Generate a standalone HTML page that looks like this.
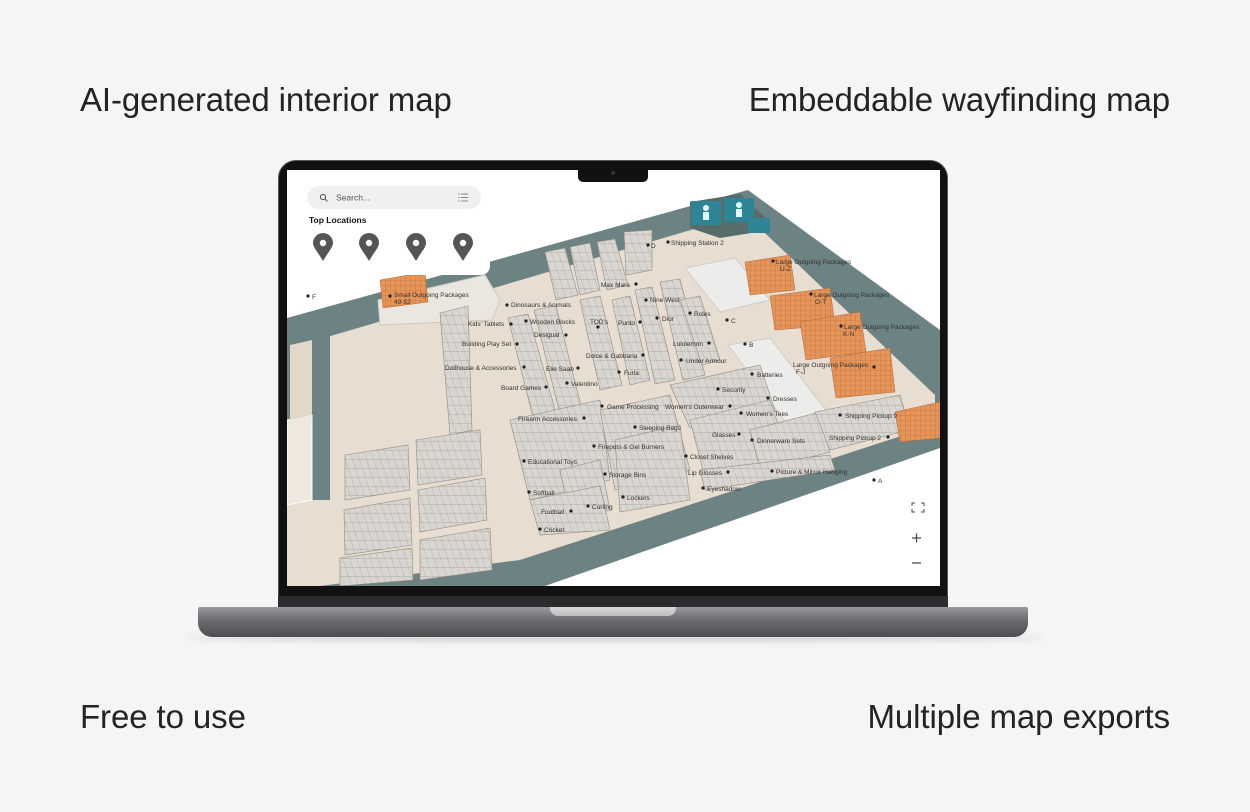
<!DOCTYPE html>
<html><head><meta charset="utf-8"><style>
body{margin:0;width:1250px;height:812px;background:#f4f5f4;font-family:"Liberation Sans",sans-serif;position:relative;overflow:hidden}
.t{position:absolute;font-size:33px;color:#232323;letter-spacing:-0.1px;white-space:nowrap}
</style></head><body>
<div class="t" style="left:80px;top:81px">AI-generated interior map</div>
<div class="t" style="right:80px;top:81px">Embeddable wayfinding map</div>
<div class="t" style="left:80px;top:698px">Free to use</div>
<div class="t" style="right:80px;top:698px">Multiple map exports</div>

<div style="position:absolute;left:185px;top:634px;width:860px;height:8px;border-radius:50%;background:rgba(0,0,0,0.12);filter:blur(3px)"></div>
<div style="position:absolute;left:278px;top:160px;width:670px;height:448px;background:#111;border-radius:18px 18px 0 0;border:1px solid #555;box-sizing:border-box"></div>
<div style="position:absolute;left:278px;top:596px;width:670px;height:12px;background:#2c2c2e"></div>
<div style="position:absolute;left:198px;top:607px;width:830px;height:30px;background:linear-gradient(#9a9a9e,#6e6e72 40%,#4e4e52);border-radius:2px 2px 14px 14px"></div>
<div style="position:absolute;left:550px;top:607px;width:126px;height:9px;background:linear-gradient(#d8d8da,#bdbdc0);border-radius:0 0 8px 8px"></div>

<svg style="position:absolute;left:287px;top:170px" width="653" height="416" viewBox="287 170 653 416" font-family="Liberation Sans, sans-serif">
<defs>
<pattern id="sh" width="7" height="9" patternUnits="userSpaceOnUse" patternTransform="skewX(18)">
<rect width="7" height="9" fill="#d9d5d0"/><path d="M0 0H7M0 0V9" stroke="#a09b95" stroke-width="0.6"/></pattern>
<pattern id="or" width="5" height="5" patternUnits="userSpaceOnUse">
<rect width="5" height="5" fill="#e6955a"/><path d="M0 0H5M0 0V5" stroke="#b86a35" stroke-width="0.6"/></pattern>
</defs>
<rect x="287" y="170" width="653" height="416" fill="#fff"/>
<polygon points="287,318 748,190 940,330 940,448 545,586 287,586" fill="#6d8282"/>
<polygon points="300,345 745,214 935,395 935,425 520,560 320,586 300,586" fill="#e7ddd0"/>
<polygon points="287,340 330,330 330,500 287,500" fill="#6d8282"/>
<polygon points="287,505 318,500 318,586 287,586" fill="#e7ddd0"/>
<polygon points="287,420 312,415 312,500 287,505" fill="#eee8de" stroke="#fff" stroke-width="1"/>
<polygon points="290,345 312,340 312,415 290,420" fill="#e2d8ca"/>
<polygon points="685,268 735,258 770,300 720,312" fill="#ececea" stroke="#ccc"/>
<polygon points="728,345 770,338 832,418 790,428" fill="#ececea" stroke="#ccc"/>
<polygon points="378,300 485,275 500,300 492,320 380,325" fill="#ebe7e0" stroke="#cfc9c0"/>
<polygon points="690,202 740,194 770,222 770,230 720,238 690,228" fill="#586c6c"/>
<rect x="691" y="201" width="30" height="24" fill="#2f8596"/>
<rect x="724" y="198" width="30" height="24" fill="#2f8596"/>
<rect x="748" y="218" width="22" height="15" fill="#2f8596"/>
<circle cx="706" cy="208" r="3" fill="#dff"/><rect x="703" y="212" width="6" height="8" fill="#dff"/>
<circle cx="739" cy="205" r="3" fill="#dff"/><rect x="736" y="209" width="6" height="8" fill="#dff"/>
<g fill="url(#sh)" stroke="#8f8a84" stroke-width="0.6">
<polygon points="624,232 652,230 652,270 626,275"/>
<polygon points="545,252 565,248 578,295 556,300"/>
<polygon points="570,247 590,243 600,290 580,295"/>
<polygon points="597,242 615,239 628,285 607,290"/>
<polygon points="508,318 528,314 558,420 535,425"/>
<polygon points="534,310 556,306 582,410 560,414"/>
<polygon points="580,300 600,296 622,385 600,390"/>
<polygon points="612,300 630,296 650,380 630,385"/>
<polygon points="635,290 652,287 675,380 655,384"/>
<polygon points="660,282 680,279 705,375 683,380"/>
<polygon points="680,300 700,296 720,360 702,365"/>
<polygon points="440,313 468,306 472,430 450,435"/>
<polygon points="510,420 600,400 610,480 530,500"/>
<polygon points="560,470 600,460 610,510 570,520"/>
<polygon points="600,410 670,395 690,470 615,490"/>
<polygon points="615,440 680,425 690,500 620,512"/>
<polygon points="670,385 760,365 775,410 690,428"/>
<polygon points="690,420 770,400 790,460 705,478"/>
<polygon points="750,430 820,412 830,452 760,470"/>
<polygon points="700,470 830,455 835,470 705,490"/>
<polygon points="815,412 900,395 910,430 830,450"/>
<polygon points="530,500 600,486 610,530 540,535"/>
<polygon points="345,455 408,445 410,490 345,500"/>
<polygon points="416,440 480,430 482,475 418,485"/>
<polygon points="344,510 410,498 412,545 345,555"/>
<polygon points="418,490 485,478 487,520 420,532"/>
<polygon points="340,558 412,548 413,580 340,586"/>
<polygon points="420,540 490,528 492,570 420,580"/>
</g>
<g fill="url(#or)" stroke="#b06a38" stroke-width="0.5">
<polygon points="745,262 790,255 795,290 750,295"/>
<polygon points="770,296 830,288 835,325 775,330"/>
<polygon points="800,322 860,312 866,352 806,360"/>
<polygon points="830,358 890,348 895,392 836,398"/>
<polygon points="895,412 940,402 940,438 900,442"/>
<polygon points="380,280 425,272 428,302 383,308"/>
</g>
<g font-size="6.5" fill="#333">
<g fill="#222">
<circle cx="648" cy="245" r="1.6"/><circle cx="668" cy="242" r="1.6"/><circle cx="773" cy="261" r="1.6"/><circle cx="811" cy="294" r="1.6"/><circle cx="841" cy="326" r="1.6"/><circle cx="874" cy="367" r="1.6"/><circle cx="636" cy="284" r="1.6"/><circle cx="646" cy="300" r="1.6"/><circle cx="690" cy="313" r="1.6"/><circle cx="727" cy="320" r="1.6"/><circle cx="657" cy="318" r="1.6"/><circle cx="640" cy="322" r="1.6"/><circle cx="598" cy="327" r="1.6"/><circle cx="526" cy="321" r="1.6"/><circle cx="511" cy="324" r="1.6"/><circle cx="507" cy="305" r="1.6"/><circle cx="390" cy="296" r="1.6"/><circle cx="566" cy="335" r="1.6"/><circle cx="709" cy="343" r="1.6"/><circle cx="745" cy="344" r="1.6"/><circle cx="517" cy="344" r="1.6"/><circle cx="643" cy="355" r="1.6"/><circle cx="681" cy="360" r="1.6"/><circle cx="524" cy="367" r="1.6"/><circle cx="578" cy="368" r="1.6"/><circle cx="619" cy="372" r="1.6"/><circle cx="752" cy="374" r="1.6"/><circle cx="567" cy="383" r="1.6"/><circle cx="546" cy="387" r="1.6"/><circle cx="718" cy="389" r="1.6"/><circle cx="768" cy="398" r="1.6"/><circle cx="602" cy="406" r="1.6"/><circle cx="730" cy="406" r="1.6"/><circle cx="741" cy="413" r="1.6"/><circle cx="840" cy="415" r="1.6"/><circle cx="584" cy="418" r="1.6"/><circle cx="635" cy="427" r="1.6"/><circle cx="739" cy="434" r="1.6"/><circle cx="752" cy="440" r="1.6"/><circle cx="888" cy="437" r="1.6"/><circle cx="594" cy="446" r="1.6"/><circle cx="686" cy="456" r="1.6"/><circle cx="524" cy="461" r="1.6"/><circle cx="605" cy="474" r="1.6"/><circle cx="728" cy="472" r="1.6"/><circle cx="772" cy="471" r="1.6"/><circle cx="874" cy="480" r="1.6"/><circle cx="529" cy="492" r="1.6"/><circle cx="703" cy="488" r="1.6"/><circle cx="623" cy="497" r="1.6"/><circle cx="588" cy="506" r="1.6"/><circle cx="571" cy="511" r="1.6"/><circle cx="540" cy="529" r="1.6"/><circle cx="308" cy="296" r="1.6"/>
</g>
<text x="651" y="248">D</text><text x="671" y="245">Shipping Station 2</text>
<text x="776" y="264">Large Outgoing Packages</text><text x="780" y="271">U-Z</text>
<text x="814" y="297">Large Outgoing Packages</text><text x="815" y="304">O-T</text>
<text x="844" y="329">Large Outgoing Packages</text><text x="843" y="336">K-N</text>
<text x="793" y="367">Large Outgoing Packages</text><text x="796" y="374">F-J</text>
<text x="601" y="287">Max Mara</text><text x="650" y="302">Nine West</text>
<text x="694" y="316">Roles</text><text x="731" y="323">C</text><text x="662" y="321">Dior</text>
<text x="618" y="325">Punto</text><text x="590" y="324">TOD's</text><text x="530" y="324">Wooden Blocks</text>
<text x="468" y="326">Kids' Tablets</text><text x="511" y="307">Dinosaurs &amp; Animals</text>
<text x="394" y="297">Small Outgoing Packages</text><text x="394" y="304">49-52</text>
<text x="534" y="337">Desigual</text><text x="673" y="346">Lululemon</text><text x="749" y="347">B</text>
<text x="462" y="346">Building Play Set</text><text x="586" y="358">Dolce &amp; Gabbana</text>
<text x="686" y="363">Under Armour</text><text x="445" y="370">Dollhouse &amp; Accessories</text>
<text x="546" y="371">Elie Saab</text><text x="624" y="375">Furla</text><text x="757" y="377">Batteries</text>
<text x="571" y="386">Valentino</text><text x="501" y="390">Board Games</text><text x="722" y="392">Security</text>
<text x="773" y="401">Dresses</text><text x="607" y="409">Game Processing</text><text x="665" y="409">Women's Outerwear</text>
<text x="746" y="416">Women's Tees</text><text x="845" y="418">Shipping Pickup 9</text>
<text x="518" y="421">Firearm Accessories</text><text x="639" y="430">Sleeping Bags</text>
<text x="712" y="437">Glasses</text><text x="757" y="443">Dinnerware Sets</text><text x="829" y="440">Shipping Pickup 2</text>
<text x="598" y="449">Firepots &amp; Gel Burners</text><text x="690" y="459">Closet Shelves</text>
<text x="528" y="464">Educational Toys</text><text x="609" y="477">Storage Bins</text>
<text x="688" y="475">Lip Glosses</text><text x="776" y="474">Picture &amp; Mirror Hanging</text>
<text x="878" y="483">A</text><text x="533" y="495">Softball</text><text x="707" y="491">Eyeshadow</text>
<text x="627" y="500">Lockers</text><text x="592" y="509">Curling</text><text x="541" y="514">Football</text>
<text x="544" y="532">Cricket</text><text x="312" y="299">F</text>
</g>
<rect x="296" y="177" width="194" height="98" rx="9" fill="#fff"/>
<rect x="307" y="186" width="174" height="23" rx="11.5" fill="#f0f0f0"/>
<circle cx="323" cy="197" r="2.6" fill="none" stroke="#555" stroke-width="1"/><path d="M325 199l2.5 2.5" stroke="#555" stroke-width="1"/>
<text x="336" y="200.5" font-size="8.5" fill="#555">Search...</text>
<g stroke="#666" stroke-width="0.8"><path d="M461 194h7M461 197.5h7M461 201h7"/></g>
<g fill="#666"><circle cx="459" cy="194" r="0.6"/><circle cx="459" cy="197.5" r="0.6"/><circle cx="459" cy="201" r="0.6"/></g>
<text x="309" y="223" font-size="8.5" font-weight="bold" fill="#111">Top Locations</text>
<g fill="#555">
<path d="M323 261 C317 251 313 247 313 243 A10 10 0 0 1 333 243 C333 247 329 251 323 261Z"/>
<path d="M369 261 C363 251 359 247 359 243 A10 10 0 0 1 379 243 C379 247 375 251 369 261Z"/>
<path d="M416 261 C410 251 406 247 406 243 A10 10 0 0 1 426 243 C426 247 422 251 416 261Z"/>
<path d="M463 261 C457 251 453 247 453 243 A10 10 0 0 1 473 243 C473 247 469 251 463 261Z"/>
</g>
<g fill="#fff"><circle cx="323" cy="243" r="3.2"/><circle cx="369" cy="243" r="3.2"/><circle cx="416" cy="243" r="3.2"/><circle cx="463" cy="243" r="3.2"/></g>
<rect x="905" y="496" width="23" height="22" rx="3" fill="#fff"/>
<path d="M912 506v-3h3M921 503h3v3M924 509v3h-3M915 512h-3v-3" stroke="#444" fill="none" stroke-width="1"/>
<rect x="905" y="527" width="23" height="48" rx="3" fill="#fff"/>
<path d="M912 538h9M916.5 533.5v9M912 563h9" stroke="#444" stroke-width="1.2"/>
</svg>
<div style="position:absolute;left:578px;top:168px;width:70px;height:14px;background:#111;border-radius:0 0 5px 5px"></div>
<div style="position:absolute;left:611px;top:171px;width:4px;height:4px;background:#333;border-radius:50%"></div>
</body></html>
